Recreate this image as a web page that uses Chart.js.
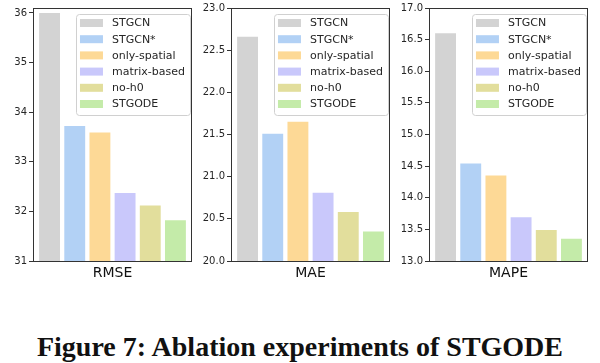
<!DOCTYPE html>
<html>
<head>
<meta charset="utf-8">
<script src="https://cdn.jsdelivr.net/npm/chart.js@4.4.0/dist/chart.umd.min.js"></script>
<style>
  html, body { margin: 0; padding: 0; background: #fff; }
  #wrap { position: relative; width: 600px; height: 363px; overflow: hidden; }
  .panel { position: absolute; top: 0; width: 200px; height: 290px; }
  #caption {
    position: absolute; left: 0; width: 600px; top: 331px;
    text-align: center; font-family: 'Liberation Serif', serif;
    font-weight: bold; font-size: 28px; line-height: 32px; color: #111;
  }
</style>
</head>
<body>
<div id="wrap">
  <div class="panel" style="left:0"><canvas id="c1"></canvas></div>
  <div class="panel" style="left:200px"><canvas id="c2"></canvas></div>
  <div class="panel" style="left:400px"><canvas id="c3"></canvas></div>
  <div id="caption">Figure 7: Ablation experiments of STGODE</div>
</div>
<script>
// ── Data ──
const methods = ['STGCN', 'STGCN*', 'only-spatial', 'matrix-based', 'no-h0', 'STGODE'];
const colors = ['#d3d3d3', '#b2d1f5', '#fdd996', '#c9c8fb', '#e2de9c', '#c4eba9'];

const rmse = [36.0, 33.72, 33.59, 32.37, 32.12, 31.82];
const mae = [22.66, 21.51, 21.65, 20.81, 20.58, 20.35];
const mape = [16.6, 14.54, 14.35, 13.69, 13.49, 13.35];

const FONT = "'DejaVu Sans', sans-serif";
const INK = '#262626';

// full box around the axes + matplotlib-like legend in the upper right
const framePlugin = {
    id: 'frame',
    afterDraw(chart) {
        const a = chart.chartArea;
        const ctx = chart.ctx;
        ctx.save();
        ctx.strokeStyle = '#333';
        ctx.lineWidth = 1;
        ctx.strokeRect(Math.round(a.left) + 0.5, Math.round(a.top) + 0.5,
            Math.round(a.right - a.left) - 1, Math.round(a.bottom - a.top));

        // legend
        const sets = chart.data.datasets;
        ctx.font = '11px ' + FONT;
        const textW = Math.max(...sets.map(d => ctx.measureText(d.label).width));
        const rowH = 16.2;
        const w = 4 + 23 + 9 + textW + 5;
        const h = sets.length * rowH + 4;
        const right = a.right - 2;
        const left = right - w;
        const top = a.top + 6;

        ctx.fillStyle = 'rgba(255,255,255,0.8)';
        ctx.strokeStyle = '#d0d0d0';
        ctx.beginPath();
        ctx.roundRect(Math.round(left) + 0.5, Math.round(top) + 0.5, Math.round(w), Math.round(h), 3);
        ctx.fill();
        ctx.stroke();

        ctx.textBaseline = 'middle';
        sets.forEach((d, i) => {
            const cy = top + 9 + i * rowH;
            ctx.fillStyle = d.backgroundColor;
            ctx.fillRect(left + 4, cy - 4, 23, 8);
            ctx.fillStyle = INK;
            ctx.fillText(d.label, left + 36, cy + 0.5);
        });
        ctx.restore();
    }
};

function makePanel(canvas, metric, values, yMin, yMax, step, decimals, yWidth, padRight, padTop) {
    const datasets = methods.map((m, i) => ({
        label: m,
        data: [values[i]],
        backgroundColor: colors[i],
        borderWidth: 0,
        categoryPercentage: 0.95,
        barPercentage: 0.83,
    }));

    return new Chart(canvas, {
        type: 'bar',
        data: { labels: [metric], datasets },
        plugins: [framePlugin],
        options: {
            responsive: true,
            maintainAspectRatio: false,
            animation: false,
            events: [],
            layout: { padding: { top: padTop, right: padRight, left: 0, bottom: 0 } },
            plugins: {
                tooltip: { enabled: false },
                legend: { display: false },
            },
            scales: {
                x: {
                    grid: { display: false, tickLength: 0 },
                    border: { display: false },
                    ticks: { color: '#111', font: { family: FONT, size: 14 }, padding: 4 },
                    afterFit(s) { s.height = 29; },
                },
                y: {
                    min: yMin,
                    max: yMax,
                    grid: { drawOnChartArea: false, drawTicks: true, tickLength: 4, color: '#333' },
                    border: { display: true, color: '#333' },
                    ticks: {
                        stepSize: step,
                        includeBounds: false,
                        color: INK,
                        font: { family: FONT, size: 10 },
                        padding: 2,
                        callback: v => v.toFixed(decimals),
                    },
                    afterFit(s) { s.width = yWidth; },
                },
            },
        },
    });
}

makePanel(document.getElementById('c1'), 'RMSE', rmse, 31, 36.1, 1, 0, 33, 8, 7);
makePanel(document.getElementById('c2'), 'MAE', mae, 20, 23, 0.5, 1, 31, 10, 7);
makePanel(document.getElementById('c3'), 'MAPE', mape, 13, 17, 0.5, 1, 29, 12, 8);
</script>
</body>
</html>
